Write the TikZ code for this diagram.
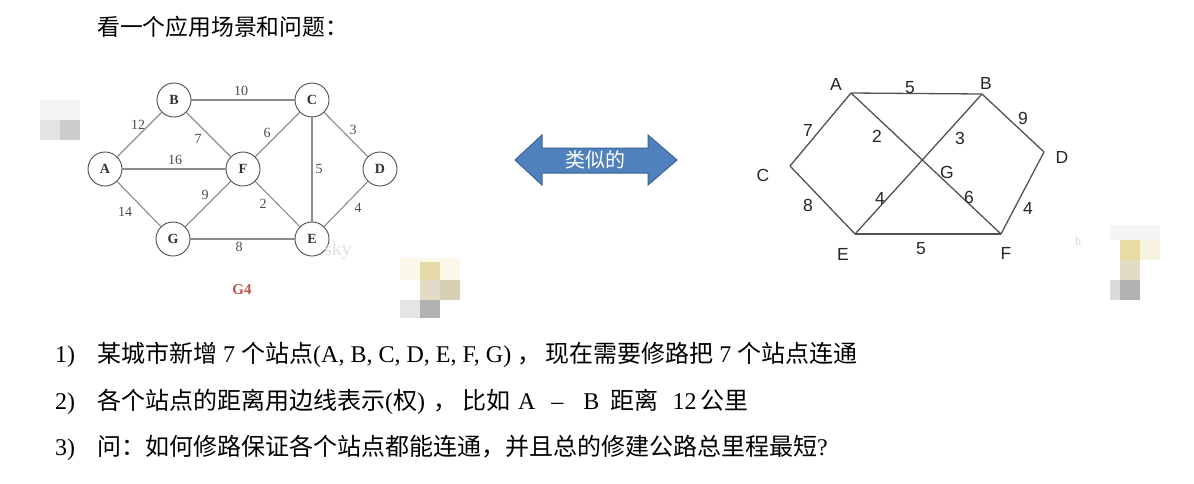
\documentclass[tikz,border=0pt]{standalone}
\usepackage{fontspec}
\setmainfont{Liberation Serif}
\newfontfamily\cjk{Noto Sans CJK SC}
\newfontfamily\arialf{Liberation Sans}
\definecolor{arrowblue}{HTML}{4F81BD}
\definecolor{arrowedge}{HTML}{3A6496}
\definecolor{gfour}{HTML}{C0504D}
\definecolor{mosA}{HTML}{E6DAA6}
\definecolor{mosB}{HTML}{E2DCC6}
\definecolor{mosC}{HTML}{D6D0B4}
\definecolor{mosD}{HTML}{E8DCA2}
\definecolor{mosE}{HTML}{F6F2E2}
\definecolor{mosF}{HTML}{FBF8EA}
\begin{document}
\begin{tikzpicture}[x=1pt,y=-1pt,
  lnode/.style={circle, draw=black!70, fill=white, line width=0.9pt, minimum size=34pt, inner sep=0pt, font=\fontsize{14}{14}\selectfont\bfseries, text=black!80},
  ledge/.style={draw=black!45, line width=1.1pt},
  llab/.style={font=\fontsize{14}{14}\selectfont, text=black!70, inner sep=0pt},
  redge/.style={draw=black!68, line width=1.3pt},
  rlab/.style={font=\arialf\fontsize{17.5}{17.5}\selectfont, text=black!85, inner sep=0pt},
  body/.style={anchor=base west, inner sep=0pt, font=\fontsize{24}{28}\selectfont, text=black}
]
\useasboundingbox (0,0) rectangle (1194,483);
\fill[white] (0,0) rectangle (1194,483);

% title
\node[anchor=base west, inner sep=0pt, font=\cjk\fontsize{22.8}{26}\selectfont] (title) at (97,35) {看一个应用场景和问题：};

% ---------- left graph ----------
\node[lnode] (A) at (105,169) {A};
\node[lnode] (B) at (174,100) {B};
\node[lnode] (C) at (312,100) {C};
\node[lnode] (D) at (380,169) {D};
\node[lnode] (E) at (312,239) {E};
\node[lnode] (F) at (243,169) {F};
\node[lnode] (G) at (173,239) {G};
\draw[ledge] (A) -- (B);
\draw[ledge] (A) -- (F);
\draw[ledge] (A) -- (G);
\draw[ledge] (B) -- (C);
\draw[ledge] (B) -- (F);
\draw[ledge] (C) -- (F);
\draw[ledge] (C) -- (D);
\draw[ledge] (C) -- (E);
\draw[ledge] (D) -- (E);
\draw[ledge] (F) -- (G);
\draw[ledge] (F) -- (E);
\draw[ledge] (G) -- (E);
\node[llab] (lBC) at (241,91) {10};
\node[llab] (lAB) at (138,125) {12};
\node[llab] (lBF) at (198,139) {7};
\node[llab] (lCF) at (267,133) {6};
\node[llab] (lCD) at (353,130) {3};
\node[llab] (lAF) at (175,160) {16};
\node[llab] (lCE) at (319,169) {5};
\node[llab] (lFG) at (205,195) {9};
\node[llab] (lFE) at (263,204) {2};
\node[llab] (lAG) at (125,212) {14};
\node[llab] (lDE) at (358,208) {4};
\node[llab] (lGE) at (239,247) {8};
\node[font=\fontsize{15}{15}\selectfont\bfseries, text=gfour, inner sep=0pt] (gfourlab) at (242,290) {G4};
\node[font=\fontsize{20}{20}\selectfont, text=black!12, inner sep=0pt] (skymark) at (338,251) {sky};

% mosaic patches
\fill[black!4] (40,100) rectangle (80,120);
\fill[black!11] (40,120) rectangle (60,140);
\fill[black!20] (60,120) rectangle (80,140);
\fill[mosF] (400,258) rectangle (460,280);
\fill[mosA] (420,262) rectangle (440,280);
\fill[mosB] (420,280) rectangle (440,300);
\fill[mosC] (440,280) rectangle (460,300);
\fill[black!10] (400,300) rectangle (420,318);
\fill[black!30] (420,300) rectangle (440,318);
\fill[black!4] (1110,225) rectangle (1160,240);
\fill[mosD] (1120,240) rectangle (1140,260);
\fill[mosE] (1140,240) rectangle (1160,260);
\fill[mosB] (1120,260) rectangle (1140,280);
\fill[black!14] (1110,280) rectangle (1120,300);
\fill[black!30] (1120,280) rectangle (1140,300);
\node[font=\fontsize{12}{12}\selectfont, text=black!15, inner sep=0pt] (hmark) at (1078,241) {h};

% ---------- double arrow ----------
\filldraw[fill=arrowblue, draw=arrowedge, line width=1pt, line join=miter]
  (515,160) -- (542,135) -- (542,148) -- (648,148) -- (648,135) -- (677,160)
  -- (648,185) -- (648,173) -- (542,173) -- (542,185) -- cycle;
\node[font=\cjk\fontsize{20}{20}\selectfont, text=white, inner sep=0pt] (similar) at (595,160) {类似的};

% ---------- right graph ----------
\coordinate (rA) at (851,93);
\coordinate (rB) at (982,94);
\coordinate (rC) at (790,166);
\coordinate (rD) at (1044,152);
\coordinate (rE) at (855,234);
\coordinate (rF) at (1001,234);
\coordinate (rG) at (intersection of rA--rF and rB--rE);
\draw[redge] (rA) -- (rB);
\draw[redge] (rA) -- (rC);
\draw[redge] (rA) -- (rG) -- (rF);
\draw[redge] (rB) -- (rG) -- (rE);
\draw[redge] (rB) -- (rD);
\draw[redge] (rD) -- (rF);
\draw[redge] (rC) -- (rE);
\draw[redge] (rE) -- (rF);
\node[rlab] (tA) at (836,84) {A};
\node[rlab] (tB) at (986,83) {B};
\node[rlab] (tC) at (763,175) {C};
\node[rlab] (tD) at (1062,157) {D};
\node[rlab] (tE) at (843,254) {E};
\node[rlab] (tF) at (1006,253) {F};
\node[rlab] (tG) at (947,172) {G};
\node[rlab] (wAB) at (910,88) {5};
\node[rlab] (wBD) at (1023,118) {9};
\node[rlab] (wAC) at (808,130) {7};
\node[rlab] (wAG) at (877,136) {2};
\node[rlab] (wBG) at (960,138) {3};
\node[rlab] (wGF) at (969,197) {6};
\node[rlab] (wEG) at (880,198) {4};
\node[rlab] (wCE) at (808,205) {8};
\node[rlab] (wDF) at (1028,208) {4};
\node[rlab] (wEF) at (921,249) {5};

% ---------- text lines ----------
\node[body] (n1) at (55,362) {1)};
\node[body] (t1) at (97,362) {{\cjk 某城市新增} 7 {\cjk 个站点}(A, B, C, D, E, F, G) {\cjk ，}\hspace{4pt}{\cjk 现在需要修路把} 7 {\cjk 个站点连通}};
\node[body] (n2) at (55,409) {2)};
\node[body] (t2) at (97,409) {{\cjk 各个站点的距离用边线表示}({\cjk 权})\hspace{8pt}{\cjk ，}\hspace{5pt}{\cjk 比如}\hspace{8pt}A\hspace{16pt}–\hspace{20pt}B\hspace{11pt}{\cjk 距离}\hspace{14pt}12\hspace{4pt}{\cjk 公里}};
\node[body] (n3) at (55,455) {3)};
\node[body] (t3) at (97,455) {{\cjk 问：如何修路保证各个站点都能连通，并且总的修建公路总里程最短}?};
\end{tikzpicture}
\end{document}
